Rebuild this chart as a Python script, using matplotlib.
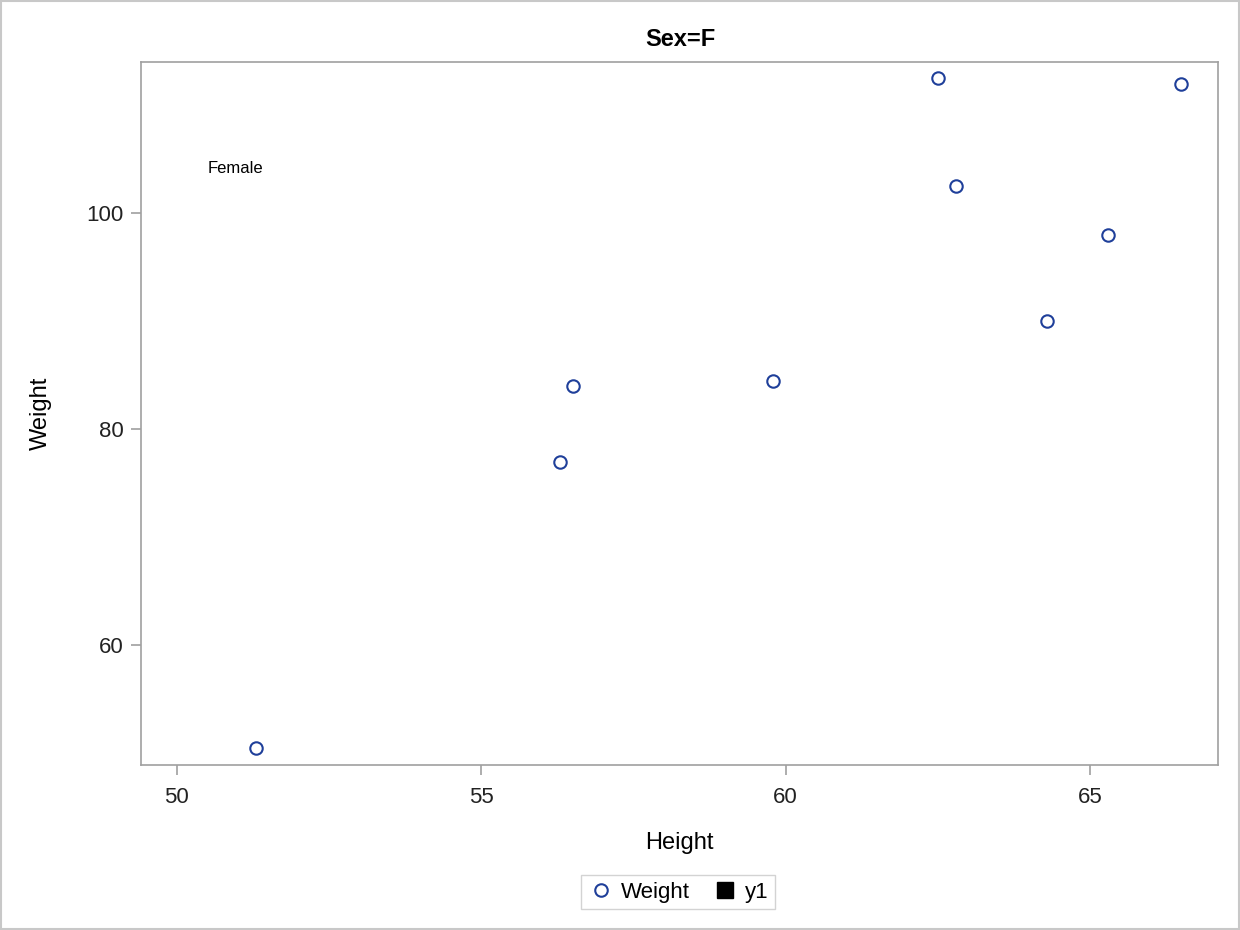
import matplotlib.pyplot as plt
from matplotlib.lines import Line2D
from matplotlib.patches import Rectangle

plt.rcParams['font.family'] = ['Liberation Sans', 'DejaVu Sans']

# female students: height vs weight
height = [56.5, 65.3, 62.8, 59.8, 62.5, 51.3, 64.3, 56.3, 66.5]
weight = [84.0, 98.0, 102.5, 84.5, 112.5, 50.5, 90.0, 77.0, 112.0]
label_pos = (50.5, 104.1)
label_text = 'Female'

fig = plt.figure(figsize=(12.4, 9.3), dpi=100)
fig.patches.append(Rectangle((0.001, 0.001), 0.998, 0.998, transform=fig.transFigure,
                             fill=False, edgecolor='#c8c8c8', linewidth=1.5))

ax = fig.add_axes([141 / 1240, 1 - 765 / 930, 1077 / 1240, 703 / 930])
ax.scatter(height, weight, s=80, facecolors='white', edgecolors='#1f3f9a', linewidths=1.5, zorder=3)
ax.text(label_pos[0], label_pos[1], label_text, fontsize=12, va='center', ha='left')

ax.set_xlim(49.414, 67.10)
ax.set_ylim(48.92, 114.0)
ax.set_xticks([50, 55, 60, 65])
ax.set_yticks([60, 80, 100])
for s in ax.spines.values():
    s.set_color('#a0a0a0')
    s.set_linewidth(1.2)
ax.tick_params(colors='#a0a0a0', labelcolor='#222222', labelsize=16, length=7.5, width=1.2)
ax.tick_params(axis='x', pad=8)
ax.tick_params(axis='y', pad=5)

ax.set_xlabel('Height', fontsize=17)
ax.set_ylabel('Weight', fontsize=17)
ax.xaxis.set_label_coords(0.5, (765 - 832) / 703)
ax.yaxis.set_label_coords((52 - 141) / 1077, 0.5)
fig.text(680 / 1240, 1 - 39 / 930, 'Sex=F', fontsize=17, fontweight='bold', ha='center', va='center')

handles = [
    Line2D([], [], linestyle='none', marker='o', markersize=9, markerfacecolor='white',
           markeredgecolor='#1f3f9a', markeredgewidth=1.5, label='Weight'),
    Line2D([], [], linestyle='none', marker='s', markersize=12, color='black', label='y1'),
]
fig.legend(handles=handles, loc='center', bbox_to_anchor=(678 / 1240, 1 - 892 / 930), ncol=2,
           fontsize=16, frameon=True, fancybox=False, edgecolor='#c8c8c8',
           handletextpad=0.3, columnspacing=1.0, handlelength=1.2, borderpad=0.3)

fig.savefig('out.png', dpi=100)
